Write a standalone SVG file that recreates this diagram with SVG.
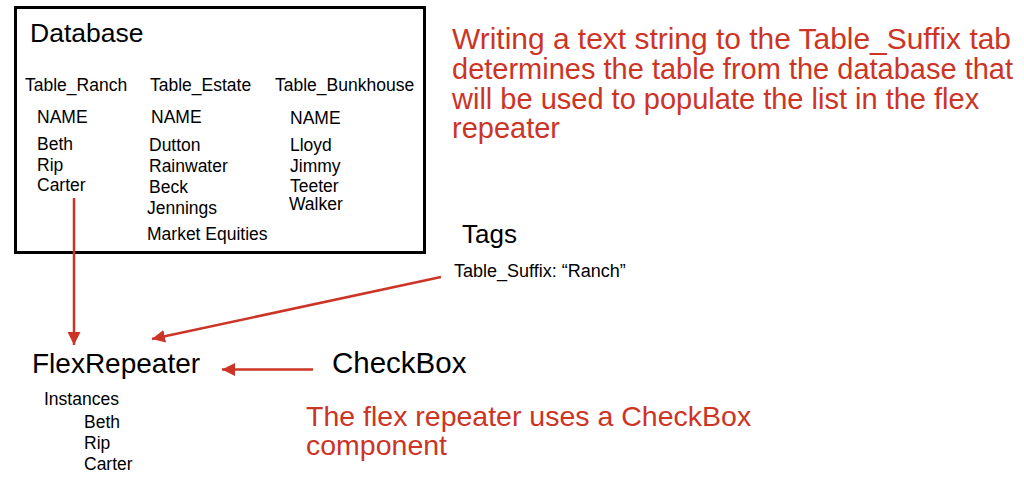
<svg xmlns="http://www.w3.org/2000/svg" width="1024" height="494" viewBox="0 0 1024 494">
<defs>
<style>
text{font-family:"Liberation Sans",Arial,Helvetica,sans-serif;fill:#000}
.s{font-size:17.5px}
.big{font-size:28px}
.red{fill:#CC3426}
.note{font-size:29px}
.note2{font-size:28.5px}
.con{stroke:#CC3426;stroke-width:2.5;fill:none}
</style>
<marker id="ah" markerUnits="userSpaceOnUse" markerWidth="14" markerHeight="13" refX="13" refY="6.5" orient="auto">
<path d="M0,0 L13,6.5 L0,13 z" fill="#CC3426"/>
</marker>
</defs>
<rect width="1024" height="494" fill="#fff"/>

<g id="database">
<rect x="15.5" y="7.5" width="409" height="245" fill="none" stroke="#000" stroke-width="3"/>
<text x="30" y="42" style="font-size:26.5px">Database</text>
<text class="s" x="25" y="91">Table_Ranch</text>
<text class="s" x="150" y="91">Table_Estate</text>
<text class="s" x="275" y="91">Table_Bunkhouse</text>
<text class="s" x="37" y="123">NAME</text>
<text class="s" x="37" y="150">Beth</text>
<text class="s" x="37" y="171">Rip</text>
<text class="s" x="37" y="191">Carter</text>
<text class="s" x="151" y="123">NAME</text>
<text class="s" x="149" y="151">Dutton</text>
<text class="s" x="149" y="172">Rainwater</text>
<text class="s" x="149" y="193">Beck</text>
<text class="s" x="147" y="214">Jennings</text>
<text class="s" x="147" y="240">Market Equities</text>
<text class="s" x="290" y="124">NAME</text>
<text class="s" x="290" y="151">Lloyd</text>
<text class="s" x="290" y="172">Jimmy</text>
<text class="s" x="290" y="192">Teeter</text>
<text class="s" x="289" y="210">Walker</text>
</g>

<g id="note-top">
<text class="red note" x="452" y="49" textLength="559" lengthAdjust="spacingAndGlyphs">Writing a text string to the Table_Suffix tab</text>
<text class="red note" x="452" y="79">determines the table from the database that</text>
<text class="red note" x="452" y="109">will be used to populate the list in the flex</text>
<text class="red note" x="452" y="138">repeater</text>
</g>

<g id="tags">
<text x="462" y="243" style="font-size:26px">Tags</text>
<text x="454" y="277" style="font-size:18px">Table_Suffix: “Ranch”</text>
</g>

<g id="flexrepeater">
<text class="big" x="32" y="373">FlexRepeater</text>
<text class="s" x="44" y="405">Instances</text>
<text class="s" x="84" y="428">Beth</text>
<text class="s" x="84" y="449">Rip</text>
<text class="s" x="84" y="470">Carter</text>
</g>

<g id="checkbox">
<text x="332" y="373" style="font-size:29.5px">CheckBox</text>
</g>

<g id="note-bottom">
<text class="red note2" x="306" y="426">The flex repeater uses a CheckBox</text>
<text class="red note2" x="306" y="455">component</text>
</g>

<g id="connectors">
<line class="con" x1="74" y1="198" x2="74" y2="345" marker-end="url(#ah)"/>
<line class="con" x1="441" y1="277" x2="152" y2="339" marker-end="url(#ah)"/>
<line class="con" x1="313" y1="369.5" x2="222" y2="369.5" marker-end="url(#ah)"/>
</g>
</svg>
